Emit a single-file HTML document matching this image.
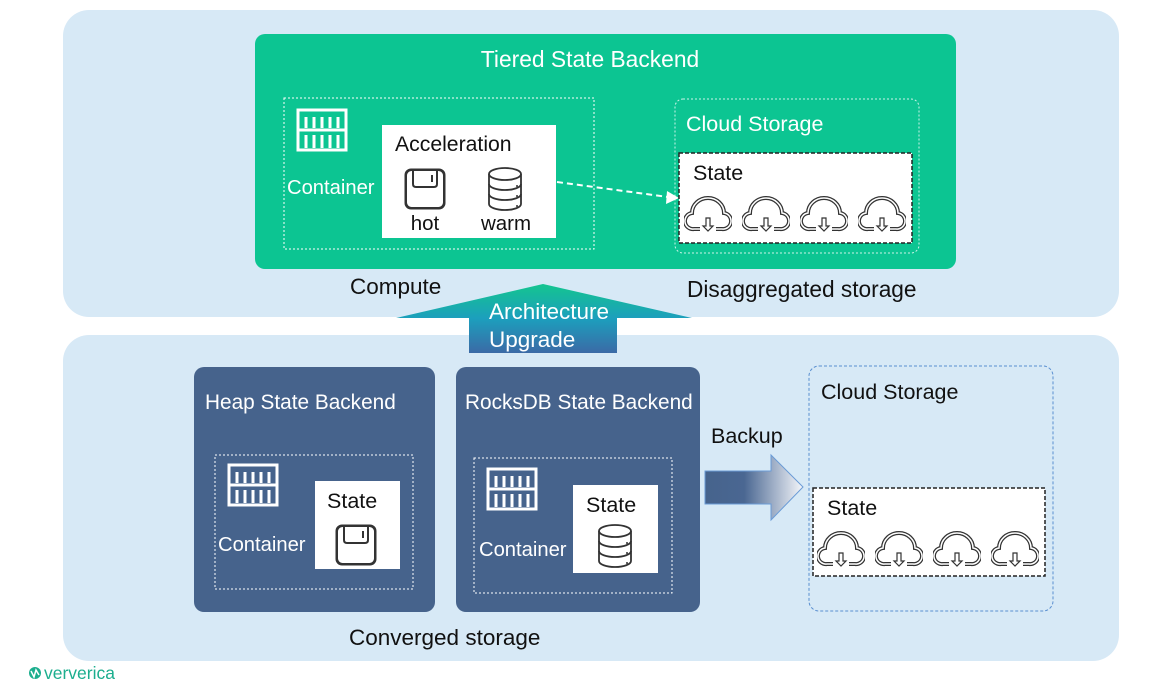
<!DOCTYPE html>
<html><head><meta charset="utf-8"><style>
html,body{margin:0;padding:0;background:#fff;}
svg{display:block;}
text{font-family:"Liberation Sans",sans-serif;}
</style></head><body>
<svg width="1150" height="686" viewBox="0 0 1150 686" xmlns="http://www.w3.org/2000/svg">
<defs>
<linearGradient id="up" x1="0" y1="0" x2="0" y2="1">
<stop offset="0" stop-color="#14c58f"/><stop offset="0.5" stop-color="#1c9fbd"/><stop offset="1" stop-color="#3b6aa6"/>
</linearGradient>
<linearGradient id="bk" x1="0" y1="0" x2="1" y2="0">
<stop offset="0" stop-color="#46638c"/><stop offset="0.4" stop-color="#4a6792"/><stop offset="1" stop-color="#f4f6fa"/>
</linearGradient>
<symbol id="cont" viewBox="0 0 52 44">
<rect x="2" y="2" width="48" height="40" fill="none" stroke="#fff" stroke-width="3"/>
<line x1="2" y1="22" x2="50" y2="22" stroke="#fff" stroke-width="3"/>
<g stroke="#fff" stroke-width="3"><line x1="10" y1="9" x2="10" y2="20"/><line x1="18" y1="9" x2="18" y2="20"/><line x1="26" y1="9" x2="26" y2="20"/><line x1="34" y1="9" x2="34" y2="20"/><line x1="42" y1="9" x2="42" y2="20"/>
<line x1="10" y1="27" x2="10" y2="40"/><line x1="18" y1="27" x2="18" y2="40"/><line x1="26" y1="27" x2="26" y2="40"/><line x1="34" y1="27" x2="34" y2="40"/><line x1="42" y1="27" x2="42" y2="40"/></g>
</symbol>
<symbol id="disk" viewBox="0 0 42 42">
<rect x="2" y="2" width="38" height="38" rx="5" fill="none" stroke="#333" stroke-width="3"/>
<rect x="3.5" y="3.5" width="35" height="35" rx="4" fill="none" stroke="#fff" stroke-width="1"/>
<path d="M9 3 V16 Q9 19 12 19 H30 Q33 19 33 16 V3" fill="none" stroke="#333" stroke-width="2"/>
<rect x="27" y="7" width="2" height="7" fill="#333"/>
</symbol>
<symbol id="db" viewBox="0 0 36 46">
<g fill="#fff" stroke="#333" stroke-width="1.8">
<path d="M2 8 V38 A16 6 0 0 0 34 38 V8"/>
<ellipse cx="18" cy="8" rx="16" ry="6"/>
<path d="M2 18 A16 6 0 0 0 34 18" fill="none"/>
<path d="M2 28 A16 6 0 0 0 34 28" fill="none"/>
</g>
<g fill="#333"><circle cx="30" cy="20" r="1"/><circle cx="30" cy="30" r="1"/><circle cx="30" cy="40" r="1"/></g>
</symbol>
<symbol id="cloud" viewBox="0 0 48 36">
<path d="M16 33 H10 A8 8 0 0 1 8 17 A16 15 0 0 1 40 17 A8 8 0 0 1 38 33 H32" fill="none" stroke="#333" stroke-width="4"/>
<path d="M16 33 H10 A8 8 0 0 1 8 17 A16 15 0 0 1 40 17 A8 8 0 0 1 38 33 H32" fill="none" stroke="#fff" stroke-width="1.5"/>
<path d="M22 22 V30 H19 L24 35 L29 30 H26 V22 Z" fill="#fff" stroke="#333" stroke-width="1.2"/>
</symbol>
</defs>

<rect x="63" y="10" width="1056" height="307" rx="26" fill="#d7e9f6"/>
<rect x="63" y="335" width="1056" height="326" rx="26" fill="#d7e9f6"/>

<rect x="255" y="34" width="701" height="235" rx="10" fill="#0cc592"/>
<text x="590" y="67" font-size="22.8" fill="#fff" text-anchor="middle">Tiered State Backend</text>
<rect x="284" y="98" width="310" height="151" fill="none" stroke="#fff" stroke-width="1" stroke-dasharray="2 2"/>
<use href="#cont" x="296" y="108" width="52" height="44"/>
<text x="287" y="194" font-size="20.2" fill="#fff">Container</text>
<rect x="382" y="125" width="174" height="113" fill="#fff"/>
<text x="395" y="151" font-size="21.2" fill="#111">Acceleration</text>
<use href="#disk" x="404" y="168" width="42" height="42"/>
<use href="#db" x="487" y="166" width="36" height="46"/>
<text x="425" y="230" font-size="20.5" fill="#111" text-anchor="middle">hot</text>
<text x="506" y="230" font-size="20.5" fill="#111" text-anchor="middle">warm</text>
<line x1="557" y1="182" x2="668" y2="197" stroke="#fff" stroke-width="2" stroke-dasharray="6 4"/>
<path d="M679 198 L667 191 L666 204 Z" fill="#fff"/>
<rect x="675" y="99" width="244" height="154" rx="8" fill="none" stroke="#fff" stroke-width="1" stroke-dasharray="2 2" opacity="0.8"/>
<text x="686" y="131" font-size="21.5" fill="#fff">Cloud Storage</text>
<rect x="679" y="153" width="233" height="90" fill="#fff" stroke="#222" stroke-width="1.5" stroke-dasharray="4 2"/>
<text x="693" y="180" font-size="21.5" fill="#111">State</text>
<use href="#cloud" x="684" y="196" width="48" height="36"/>
<use href="#cloud" x="742" y="196" width="48" height="36"/>
<use href="#cloud" x="800" y="196" width="48" height="36"/>
<use href="#cloud" x="858" y="196" width="48" height="36"/>
<text x="350" y="294" font-size="22.5" fill="#111">Compute</text>
<text x="687" y="297" font-size="22.7" fill="#111">Disaggregated storage</text>

<path d="M543 284 L692 318 L617 318 L617 353 L469 353 L469 318 L396 318 Z" fill="url(#up)"/>
<text x="489" y="319" font-size="22.5" fill="#fff">Architecture</text>
<text x="489" y="347" font-size="22.5" fill="#fff">Upgrade</text>

<rect x="194" y="367" width="241" height="245" rx="10" fill="#46638c"/>
<text x="205" y="409" font-size="20.8" fill="#fff">Heap State Backend</text>
<rect x="215" y="455" width="198" height="134" fill="none" stroke="#fff" stroke-width="1" stroke-dasharray="2 2"/>
<use href="#cont" x="227" y="463" width="52" height="44"/>
<text x="218" y="551" font-size="20.2" fill="#fff">Container</text>
<rect x="315" y="481" width="85" height="88" fill="#fff"/>
<text x="327" y="508" font-size="21.5" fill="#111">State</text>
<use href="#disk" x="335" y="524" width="42" height="42"/>

<rect x="456" y="367" width="244" height="245" rx="10" fill="#46638c"/>
<text x="465" y="409" font-size="20.8" fill="#fff">RocksDB State Backend</text>
<rect x="474" y="458" width="198" height="135" fill="none" stroke="#fff" stroke-width="1" stroke-dasharray="2 2"/>
<use href="#cont" x="486" y="467" width="52" height="44"/>
<text x="479" y="556" font-size="20.2" fill="#fff">Container</text>
<rect x="573" y="485" width="85" height="88" fill="#fff"/>
<text x="586" y="512" font-size="21.5" fill="#111">State</text>
<use href="#db" x="597" y="523" width="36" height="46"/>

<text x="711" y="443" font-size="21.5" fill="#111">Backup</text>
<path d="M705 471 H771 V455 L803 487 L771 520 V504 H705 Z" fill="url(#bk)" stroke="#6a9bd6" stroke-width="1"/>

<rect x="809" y="366" width="244" height="245" rx="10" fill="none" stroke="#5a8fd0" stroke-width="1" stroke-dasharray="3 2"/>
<text x="821" y="399" font-size="21.5" fill="#111">Cloud Storage</text>
<rect x="813" y="488" width="232" height="88" fill="#fff" stroke="#222" stroke-width="1.5" stroke-dasharray="4 2"/>
<text x="827" y="515" font-size="21.5" fill="#111">State</text>
<use href="#cloud" x="817" y="531" width="48" height="36"/>
<use href="#cloud" x="875" y="531" width="48" height="36"/>
<use href="#cloud" x="933" y="531" width="48" height="36"/>
<use href="#cloud" x="991" y="531" width="48" height="36"/>
<text x="349" y="645" font-size="22.5" fill="#111">Converged storage</text>

<circle cx="35" cy="673" r="6" fill="#1cae8e"/>
<path d="M31 671 L34 677 L36 670 L39 675" fill="none" stroke="#fff" stroke-width="1.5"/>
<text x="44" y="679" font-size="17.5" fill="#1cae8e">ververica</text>
</svg>
</body></html>
